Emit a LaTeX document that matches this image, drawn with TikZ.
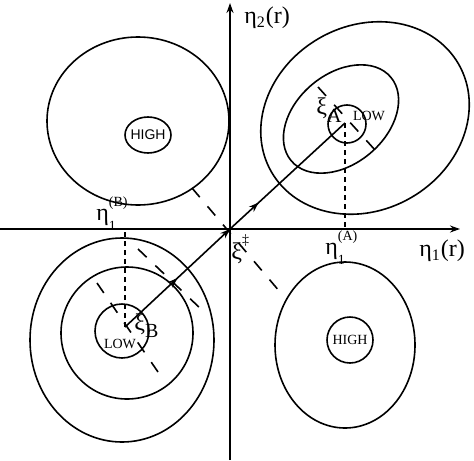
\documentclass[tikz,border=0pt]{standalone}
\usepackage{fontspec}
\setmainfont{Liberation Serif}
\newfontfamily\labelsans{Liberation Sans}
\usetikzlibrary{arrows.meta, decorations.markings}

\newcommand{\ssub}[1]{\raisebox{-2pt}{\scriptsize #1}}
\newcommand{\ssup}[1]{\raisebox{2.5pt}{\scriptsize #1}}
\newcommand{\bsub}[1]{\raisebox{-1pt}{\normalsize #1}}

\tikzset{
  contour/.style={line width=0.8pt},
  axis/.style={line width=0.9pt, ->},
  path line/.style={line width=0.8pt},
  perp/.style={line width=0.8pt, dash pattern=on 6pt off 6pt},
  drop/.style={line width=0.7pt, dash pattern=on 2.5pt off 2pt},
  midarrow/.style={postaction={decorate},
    decoration={markings, mark=at position #1 with {\arrow{>}}}},
  region/.style={font=\scriptsize, inner sep=0pt},
  tag/.style={anchor=west, inner sep=0pt, font=\large},
}

\begin{document}
\begin{tikzpicture}[x=0.5pt, y=-0.5pt, >={Stealth[length=5pt, width=3.5pt]}]
\useasboundingbox (0,0) rectangle (474,460);

% points
\coordinate (O) at (230,229);
\coordinate (A) at (345,123);
\coordinate (B) at (125,327);

% axes
\coordinate (xs) at (0,229);
\coordinate (xe) at (460,229);
\coordinate (ys) at (230,460);
\coordinate (ye) at (230,3);
\draw[axis] (xs) -- (xe);
\draw[axis] (ys) -- (ye);

% contours
\draw[contour] (138,121) ellipse (91 and 84);
\draw[contour] (148,135) ellipse (23 and 18);
\draw[contour, rotate around={30:(365,118)}] (365,118) ellipse (108 and 92);
\draw[contour, rotate around={40:(341,119)}] (341,119) ellipse (65 and 45);
\draw[contour] (347,124) circle (19);
\draw[contour] (122,340) ellipse (92 and 102);
\draw[contour] (127,333) circle (66);
\draw[contour] (122,331) circle (27);
\draw[contour] (345,345) ellipse (70 and 83);
\draw[contour] (350,340) circle (23);

% dashed lines
\coordinate (a1) at (318,87);  \coordinate (a2) at (375,150);
\coordinate (o1) at (192,188); \coordinate (o2) at (280,292);
\coordinate (m1) at (138,249); \coordinate (m2) at (202,310);
\coordinate (b1) at (97,283);  \coordinate (b2) at (158,372);
\draw[perp] (a1) -- (a2);
\draw[perp] (o1) -- (o2);
\draw[perp] (m1) -- (m2);
\draw[perp] (b1) -- (b2);
\draw[drop] (A) -- (A |- O);
\draw[drop] (B) -- (B |- O);

% reaction path
\draw[path line, ->, midarrow=0.5] (B) -- (O);
\draw[path line, midarrow=0.25] (O) -- (A);

% labels
\node[tag] (ly) at (244,18) {η\textsubscript{2}(r)};
\node[tag] (lx) at (419,251) {η\textsubscript{1}(r)};
\node[tag] (lA) at (325,248) {$\mbox{η}_{\ssub{1}}^{\ssup{(A)}}$};
\node[tag] (lB) at (96,214) {$\mbox{η}_{\ssub{1}}^{\ssup{(B)}}$};
\node[tag] (lO) at (231,249) {$\mbox{ξ}^{\ssup{‡}}$};
\node[tag] (xA) at (316,110) {$\mbox{ξ}_{\bsub{A}}$};
\node[tag] (xB) at (134,326) {$\mbox{ξ}_{\bsub{B}}$};
\node[region] (lowA) at (369,116) {LOW};
\node[region] (lowB) at (120,344) {LOW};
\node[region, font=\scriptsize\labelsans] (highL) at (148,135) {HIGH};
\node[region] (highR) at (350,340) {HIGH};
\end{tikzpicture}
\end{document}
